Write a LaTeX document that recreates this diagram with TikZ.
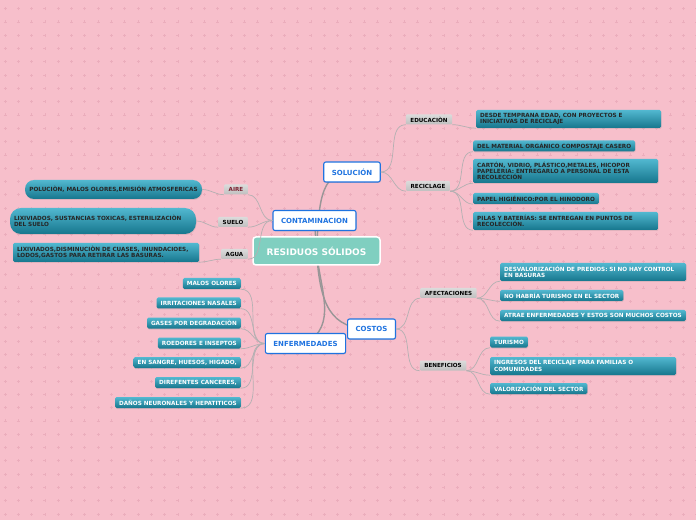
\documentclass[tikz,border=0pt]{standalone}
\usepackage{fontspec}
\setmainfont{DejaVu Sans}
\usetikzlibrary{shadows}
\definecolor{pinkbg}{HTML}{F7BFCB}
\definecolor{pinkdot}{HTML}{EBADBC}
\definecolor{tealtop}{HTML}{52B8D0}
\definecolor{tealbot}{HTML}{16768D}
\definecolor{mint}{HTML}{80CFC0}
\definecolor{mainblue}{HTML}{1F73E0}
\definecolor{linegray}{HTML}{B4B0B2}
\definecolor{lblred}{HTML}{7A1E2E}
\pgfdeclarelayer{bg}
\pgfdeclarelayer{lines}
\pgfsetlayers{bg,lines,main}

\begin{document}
\begin{tikzpicture}[x=1pt,y=1pt,
  root/.style={draw=white,line width=1.5pt,fill=mint,rounded corners=3pt,text=white,font=\fontsize{9}{10}\selectfont\bfseries,minimum width=127pt,minimum height=28pt},
  topic/.style={draw=mainblue,line width=1.1pt,fill=white,rounded corners=2pt,text=mainblue,font=\fontsize{7}{8}\selectfont\bfseries,minimum height=20pt,inner xsep=8pt,drop shadow={opacity=0.25,shadow xshift=0.6pt,shadow yshift=-0.8pt}},
  tag/.style={top color=gray!28,bottom color=gray!50,rounded corners=1pt,font=\fontsize{5.6}{6}\selectfont\bfseries,minimum height=10pt,inner xsep=4.5pt,inner ysep=1pt},
  leaf/.style={top color=tealtop,bottom color=tealbot,rounded corners=1.5pt,font=\fontsize{5.7}{6.3}\selectfont\bfseries,minimum height=11pt,inner xsep=4pt,inner ysep=2pt,align=left,drop shadow={opacity=0.2,shadow xshift=0.5pt,shadow yshift=-1pt}},
  dark/.style={text=black!85},
  light/.style={text=white},
  wide/.style={text width=177pt},
  main line/.style={draw=linegray!85!black,line width=1.4pt},
  sub line/.style={draw=linegray,line width=0.7pt}]
\useasboundingbox (0,0) rectangle (696,520);
% background
\begin{pgfonlayer}{bg}
\fill[pinkbg] (0,0) rectangle (696,520);
\foreach \i in {0,...,52}
  \foreach \j in {0,...,39}
    \draw[pinkdot,line width=0.7pt] ({5+13.3*\i-1.5},{6+13.3*\j}) -- ++(3,0) ({5+13.3*\i},{6+13.3*\j-1.5}) -- ++(0,3);
\end{pgfonlayer}

% main topics
\node[root] (rs) at (316.5,269) {RESIDUOS SÓLIDOS};
\node[topic] (cont) at (314.5,299.5) {CONTAMINACION};
\node[topic] (sol) at (352,348) {SOLUCIÓN};
\node[topic] (cost) at (371.5,191) {COSTOS};
\node[topic] (enf) at (305.5,176.5) {ENFERMEDADES};

% tags
\node[tag,text=lblred] (aire) at (236,330.5) {AIRE};
\node[tag] (suelo) at (233,298) {SUELO};
\node[tag] (agua) at (234.5,266) {AGUA};
\node[tag] (edu) at (429,400.5) {EDUCACIÒN};
\node[tag] (reci) at (428,334) {RECICLAGE};
\node[tag] (afec) at (448.5,227) {AFECTACIONES};
\node[tag] (bene) at (443,154.5) {BENEFICIOS};

% contaminacion
\node[leaf,dark,minimum width=177pt,minimum height=19pt,rounded corners=9pt,align=center] (pol) at (113.5,330.5) {POLUCIÒN, MALOS OLORES,EMISIÓN ATMOSFERICAS};
\node[leaf,dark,text width=178pt,minimum height=26pt,rounded corners=11pt] (sust) at (103,299) {LIXIVIADOS, SUSTANCIAS TOXICAS, ESTERILIZACIÒN\\DEL SUELO};
\node[leaf,dark,text width=178pt,minimum height=19pt] (dism) at (106,267.5) {LIXIVIADOS,DISMINUCIÒN DE CUASES, INUNDACIOES,\\LODOS,GASTOS PARA RETIRAR LAS BASURAS.};

% enfermedades
\node[leaf,light,anchor=east] (e1) at (241,236.5) {MALOS OLORES};
\node[leaf,light,anchor=east] (e2) at (241,217) {IRRITACIONES NASALES};
\node[leaf,light,anchor=east] (e3) at (241,197) {GASES POR DEGRADACIÒN};
\node[leaf,light,anchor=east] (e4) at (241,177) {ROEDORES E INSEPTOS};
\node[leaf,light,anchor=east] (e5) at (241,157.5) {EN SANGRE, HUESOS, HIGADO,};
\node[leaf,light,anchor=east] (e6) at (241,137.5) {DIREFENTES CANCERES,};
\node[leaf,light,anchor=east] (e7) at (241,117.5) {DAÑOS NEURONALES Y HEPATITICOS};

% solucion
\node[leaf,dark,wide,anchor=west,minimum height=18pt] (s1) at (476,401) {DESDE TEMPRANA EDAD, CON PROYECTOS E\\INICIATIVAS DE RECICLAJE};
\node[leaf,dark,anchor=west] (s2) at (473,374) {DEL MATERIAL ORGÁNICO COMPOSTAJE CASERO};
\node[leaf,dark,wide,anchor=west,minimum height=24pt] (s3) at (473,349) {CARTÓN, VIDRIO, PLÁSTICO,METALES, HICOPOR\\PAPELERIA: ENTREGARLO A PERSONAL DE ESTA\\RECOLECCIÓN};
\node[leaf,dark,anchor=west] (s4) at (473,321.5) {PAPEL HIGIÉNICO:POR EL HINODORO};
\node[leaf,dark,wide,anchor=west,minimum height=18pt] (s5) at (473,299) {PILAS Y BATERÍAS: SE ENTREGAN EN PUNTOS DE\\RECOLECCIÓN.};

% costos
\node[leaf,light,wide,anchor=west,minimum height=18pt,text width=178pt] (c1) at (500,248) {DESVALORIZACIÓN DE PREDIOS: SI NO HAY CONTROL\\EN BASURAS};
\node[leaf,light,anchor=west] (c2) at (500,224.5) {NO HABRÍA TURISMO EN EL SECTOR};
\node[leaf,light,anchor=west] (c3) at (500,204.5) {ATRAE ENFERMEDADES Y ESTOS SON MUCHOS COSTOS};
\node[leaf,light,anchor=west] (b1) at (490,178) {TURISMO};
\node[leaf,light,wide,anchor=west,minimum height=18pt,text width=178pt] (b2) at (490,154) {INGRESOS DEL RECICLAJE PARA FAMILIAS O\\COMUNIDADES};
\node[leaf,light,anchor=west] (b3) at (490,131.5) {VALORIZACIÓN DEL SECTOR};

% connectors
\begin{pgfonlayer}{lines}
\draw[main line] (rs.center) .. controls (319,310) and (318,350) .. (sol.center);
\draw[main line] (rs.center) -- (cont.center);
\draw[main line] (rs.center) .. controls (320,215) and (330,191) .. (cost.center);
\draw[main line] (rs.center) .. controls (320,230) and (338,195) .. (enf.center);
\end{pgfonlayer}
\draw[sub line] (cont.west) to[out=180,in=0] (aire.south east);
\draw[sub line] (cont.west) to[out=180,in=0] (suelo.south east);
\draw[sub line] (cont.west) to[out=180,in=0] (agua.south east);
\draw[sub line] (aire.south west) to[out=180,in=0] (pol.east);
\draw[sub line] (suelo.south west) to[out=180,in=0] (sust.east);
\draw[sub line] (agua.south west) to[out=180,in=0] (dism.south east);
\foreach \n in {e1,e2,e3,e4,e5,e6,e7}
  \draw[sub line] (enf.west) to[out=180,in=0] (\n.south east);
\draw[sub line] (sol.east) to[out=0,in=180] (edu.south west);
\draw[sub line] (sol.east) to[out=0,in=180] (reci.south west);
\draw[sub line] (edu.south east) to[out=0,in=180] (s1.south west);
\foreach \n in {s2,s3,s4,s5}
  \draw[sub line] (reci.south east) to[out=0,in=180] (\n.south west);
\draw[sub line] (cost.east) to[out=0,in=180] (afec.south west);
\draw[sub line] (cost.east) to[out=0,in=180] (bene.south west);
\foreach \n in {c1,c2,c3}
  \draw[sub line] (afec.south east) to[out=0,in=180] (\n.south west);
\foreach \n in {b1,b2,b3}
  \draw[sub line] (bene.south east) to[out=0,in=180] (\n.south west);
\end{tikzpicture}
\end{document}
